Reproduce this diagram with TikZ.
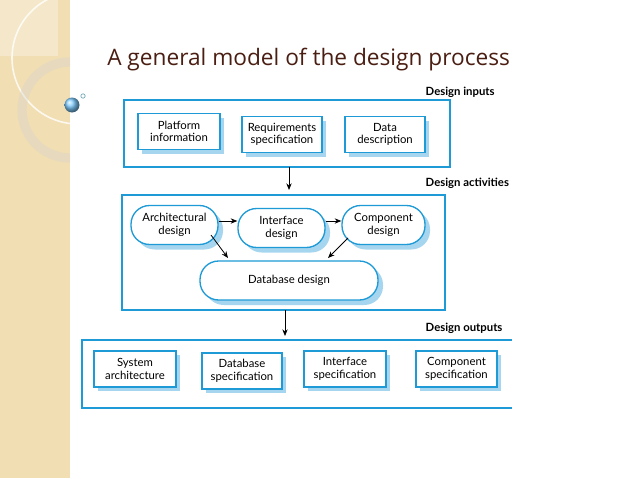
\documentclass[tikz,border=0pt]{standalone}
\usepackage{fontspec}
\setmainfont{Open Sans}
\newfontfamily\lab{Lato}
\usetikzlibrary{arrows.meta}
\definecolor{bl}{HTML}{1E9AD6}
\definecolor{sh}{HTML}{A6D6EF}
\definecolor{beige}{HTML}{F1DEB3}
\definecolor{ttl}{HTML}{4A1E12}
\begin{document}
\begin{tikzpicture}[x=0.75pt,y=-0.75pt,
  frame/.style={draw=bl,line width=1.2pt},
  box/.style={draw=bl,fill=white,line width=1pt,minimum width=#1*0.75pt,minimum height=36*0.75pt,align=center,font=\lab\fontsize{8.5}{9.5}\selectfont,inner sep=1pt},
  rbox/.style={draw=bl,fill=white,line width=1pt,rounded corners=14pt,minimum width=#1*0.75pt,minimum height=39*0.75pt,align=center,font=\lab\fontsize{8.5}{9.5}\selectfont,inner sep=1pt},
  shd/.style={fill=sh,draw=none},
  hd/.style={font=\lab\bfseries\fontsize{8.5}{10}\selectfont,anchor=west},
  arr/.style={-{Stealth[length=5pt,width=4pt]},line width=0.6pt}]
\useasboundingbox (0,0) rectangle (638,478);
\fill[white] (0,0) rectangle (638,478);
% left panel
\fill[beige] (0,0) rectangle (70,478);
\begin{scope}
\clip (0,0) rectangle (70,478);
\draw[white,line width=1.2pt,opacity=0.8] (78,58) circle (66);
\draw[white!80!beige!85!black,line width=7pt,opacity=0.4] (70,110) circle (48);
\fill[white,opacity=0.3] (0,0) rectangle (58,56);
\end{scope}
\shade[ball color=cyan!60!blue!50] (72,105) circle (7.5);
\draw[cyan!40!gray,line width=0.5pt] (83,96) circle (2.2);
\node[anchor=base west,text=ttl,font=\fontsize{17}{20}\selectfont,inner sep=0] (title) at (107,65) {A general model of the design process};
% frames
\draw[frame] (124,100) rectangle (450,167);
\draw[frame] (122,195) rectangle (445,310);
\draw[frame] (512,340) -- (82,340) -- (82,408) -- (512,408);
\node[hd] (h1) at (421,92) {Design inputs};
\node[hd] (h2) at (421,183) {Design activities};
\node[hd] (h3) at (421,328) {Design outputs};
% inputs
\foreach \n/\x/\y/\w/\t in {pi/179/131.5/82/{Platform\\information},rs/282/134.5/80/{Requirements\\specification},dd/385/134.5/80/{Data\\description},
  sa/135/369/82/{System\\architecture},ds/242/371/80/{Database\\specification},is/345/369/82/{Interface\\specification},cs/456.5/369/81/{Component\\specification}}{
  \fill[shd] (\x-\w/2+4,\y-18+4) rectangle (\x+\w/2+4,\y+18+4);
  \node[box=\w] (\n) at (\x,\y) {\t};
}
% activities
\foreach \n/\x/\y/\w/\t in {ad/174.5/225/87/{Architectural\\design},id/281.5/228/87/{Interface\\design},cd/383.5/225/83/{Component\\design},db/289/280.5/178/{Database design}}{
  \fill[shd,rounded corners=14pt] (\x-\w/2+5,\y-19.5+5) rectangle (\x+\w/2+5,\y+19.5+5);
  \node[rbox=\w] (\n) at (\x,\y) {\t};
}
\coordinate (a1) at (289,167); \coordinate (a2) at (289,190);
\coordinate (b1) at (285,310); \coordinate (b2) at (285,336);
\draw[arr] (a1) -- (a2);
\draw[arr] (b1) -- (b2);
\draw[arr] (ad.east |- 0,221) -- (id.west |- 0,221);
\draw[arr] (id.east |- 0,221) -- (cd.west |- 0,221);
\draw[arr] (211,235) -- (228,258);
\draw[arr] (348,238) -- (328,258);
\end{tikzpicture}
\end{document}
